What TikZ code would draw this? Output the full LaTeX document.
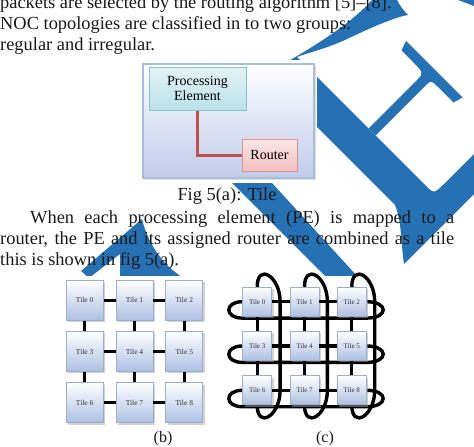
\documentclass[tikz,border=0pt]{standalone}
\usepackage{fontspec}
\setmainfont{Liberation Serif}
\usepackage{tikz}
\usetikzlibrary{matrix,shadows}
\definecolor{markblue}{RGB}{38,112,180}
\definecolor{tileedge}{RGB}{155,174,206}
\definecolor{tilefill}{RGB}{172,192,226}
\definecolor{boxedge}{RGB}{172,188,220}
\definecolor{boxfill}{RGB}{192,203,234}
\definecolor{peedge}{RGB}{128,198,210}
\definecolor{pefill}{RGB}{186,226,234}
\definecolor{rtedge}{RGB}{226,146,146}
\definecolor{rtfill}{RGB}{243,192,192}
\definecolor{wirered}{RGB}{192,80,77}
\pgfdeclarelayer{marks}
\pgfdeclarelayer{wraps}
\pgfsetlayers{marks,wraps,main}

\begin{document}
\begin{tikzpicture}[
	x=1pt, y=-1pt,
	body/.style={anchor=base west, inner sep=0pt, text=black!90,
		font=\fontsize{18.4}{21}\selectfont},
	small/.style={body, anchor=base, font=\fontsize{16}{18}\selectfont},
	wmark/.style={fill=markblue},
	paper/.style={fill=white},
	tile/.style={
		draw=tileedge, line width=0.8pt, inner sep=0pt, text=black!80,
		top color=white, bottom color=tilefill,
		drop shadow={shadow xshift=1.8pt, shadow yshift=-1.8pt, fill=black!35}
	},
	btile/.style={tile, minimum width=37pt, minimum height=40pt,
		font=\fontsize{7.5}{9}\selectfont},
	ctile/.style={tile, minimum width=29pt, minimum height=29pt,
		font=\fontsize{7}{8}\selectfont},
	tilebox/.style={draw=boxedge, line width=1.6pt, top color=white,
		bottom color=boxfill, minimum width=171pt, minimum height=114pt,
		drop shadow={shadow xshift=1.5pt, shadow yshift=-1.5pt, fill=black!25}},
	pebox/.style={draw=peedge, line width=1pt, top color=white!60!pefill,
		bottom color=pefill, minimum width=97pt, minimum height=43pt,
		align=center, font=\fontsize{14}{15}\selectfont},
	rtbox/.style={draw=rtedge, line width=1pt, top color=white!60!rtfill,
		bottom color=rtfill, minimum width=55pt, minimum height=32pt,
		font=\fontsize{14}{15}\selectfont},
	wire/.style={draw=wirered, line width=3pt},
	link/.style={line width=3.2pt},
	wrap/.style={line width=3.4pt}
]
\useasboundingbox (0,0) rectangle (474,447);

\begin{pgfonlayer}{marks}
\fill[wmark] (265,75) .. controls (300,54) and (345,30) .. (372,0) -- (397,0)
	.. controls (400,6) and (404,11) .. (408,15)
	.. controls (395,17) and (370,28) .. (345,40)
	.. controls (325,49) and (310,52) .. (297,57)
	-- (424,184) .. controls (434,194) .. (444,184) -- (474,154) -- (474,194)
	-- (404,264) .. controls (401,245) and (402,222) .. (395,205) -- cycle;
\fill[wmark] (368.5,128.5) -- (417,80) .. controls (424,73) .. (410,59)
	-- (401.5,50.5) -- (406,41) -- (462.5,97.5) -- (453.5,102.5)
	-- (438,87) .. controls (431,80) .. (424,87) -- (375.5,135.5) -- cycle;
\fill[wmark] (458,0) -- (474,0) -- (474,6) -- cycle;
\fill[wmark] (232,183) -- (272,183) -- (357,276) -- (325,276) -- cycle;
\fill[wmark] (81,271) -- (142,219) .. controls (147,240) and (160,263) .. (182,277)
	-- (120,277) -- (120,254) -- (89,278) -- cycle;
\fill[paper] (138,60) rectangle (317,183);
\fill[paper] (55,276) rectangle (412,447);
\end{pgfonlayer}

\node[body] (l1) at (0,9) {packets are selected by the routing algorithm [5]–[8].};
\node[body] (l2) at (0,29) {NOC topologies are classified in to two groups:};
\node[body] (l3) at (0,50) {regular and irregular.};

\node[tilebox] (tile) at (228.5,121) {};
\node[pebox] (pe) at (197.5,88.5) {Processing\\Element};
\node[rtbox] (router) at (269.5,155) {Router};
\draw[wire] (pe.south) |- (router.west);
\node[body, anchor=base] (capa) at (227,200) {Fig 5(a): Tile};

\node[body] (p1) at (30,223)
	{\makebox[424pt][s]{When each processing element (PE) is mapped to a}};
\node[body] (p2) at (0,244)
	{\makebox[454pt][s]{router, the PE and its assigned router are combined as a tile}};
\node[body] (p3) at (0,265) {this is shown in fig 5(a).};

\matrix (B) [matrix of nodes, nodes={btile}, column sep=12pt, row sep=10.5pt]
	at (134.5,351.5) {
	Tile 0 & Tile 1 & Tile 2 \\
	Tile 3 & Tile 4 & Tile 5 \\
	Tile 6 & Tile 7 & Tile 8 \\
};
\matrix (C) [matrix of nodes, nodes={ctile}, column sep=17.5pt, row sep=14.5pt]
	at (304.5,346) {
	Tile 0 & Tile 1 & Tile 2 \\
	Tile 3 & Tile 4 & Tile 5 \\
	Tile 6 & Tile 7 & Tile 8 \\
};

\foreach \i in {1,2,3} {
	\draw[link] (B-\i-1) -- (B-\i-2);
	\draw[link] (B-\i-2) -- (B-\i-3);
	\draw[link] (B-1-\i) -- (B-2-\i);
	\draw[link] (B-2-\i) -- (B-3-\i);
	\draw[link] (C-\i-1) -- (C-\i-2);
	\draw[link] (C-\i-2) -- (C-\i-3);
	\draw[link] (C-1-\i) -- (C-2-\i);
	\draw[link] (C-2-\i) -- (C-3-\i);
}
\begin{pgfonlayer}{wraps}
\foreach \i in {1,2,3} {
	\draw[wrap] (C-1-\i.north) .. controls +(0,-24) and +(0,-26)
		.. ([xshift=8pt]C-1-\i.east) -- ([xshift=8pt]C-3-\i.east)
		.. controls +(0,26) and +(0,24) .. (C-3-\i.south);
	\draw[wrap] (C-\i-1.west) .. controls +(-18,0) and +(-18,0)
		.. ([yshift=-1.5pt]C-\i-1.south west) -- ([yshift=-1.5pt]C-\i-3.south east)
		.. controls +(22,0) and +(22,0) .. (C-\i-3.east);
}
\end{pgfonlayer}

\node[small] (capb) at (163,442) {(b)};
\node[small] (capc) at (325,442) {(c)};
\end{tikzpicture}
\end{document}
